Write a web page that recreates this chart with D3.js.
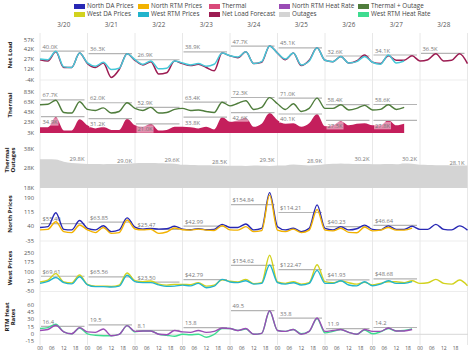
<!DOCTYPE html>
<html>
<head>
<meta charset="utf-8">
<script src="https://d3js.org/d3.v7.min.js"></script>
<style>
  body { margin: 0; background: #fff; }
  svg { display: block; font-family: "Open Sans", sans-serif; }
</style>
</head>
<body>
<svg width=474 height=354></svg>
<script>

    // ---- data (values every 4 hours, 6 per day, starting 3/20 00:00) ----
    let days = ['3/20','3/21','3/22','3/23','3/24','3/25','3/26','3/27','3/28'];
    let hourLabels = ['00','06','12','18'];

    let legendNames = ['North DA Prices','North RTM Prices','Thermal','North RTM Heat Rate','Thermal + Outage',
                       'West DA Prices','West RTM Prices','Net Load Forecast','Outages','West RTM Heat Rate'];
    let legendColors = ['#2828b4','#f2b200','#d9497a','#9a4bb5','#4f7d3c',
                        '#d2d21e','#22b4cc','#9c1c52','#d4d4d4','#3edc90'];

    // Net load (K)
    let netLoad = [28,27,40,16,15,37, 22,17,23,12,14,36, 27,20,25,13,14,25, 22,19,21,17,20,37,
                   33,31,39,21,24,48, 37,28,37,19,25,45, 26,24,32,22,24,32, 23,20,34,22,25];
    let netLoadFcst = [27,25,39,15,15,37, 21,15,22,0,12,36, 26,19,24,5,7,25, 21,18,20,15,10,37,
                       33,30,39,21,23,48, 37,27,37,18,26,45, 26,24,32,22,25,34, 23,21,33,26,26,33,
                       25,27,36,25,26,36,21];
    let netLoadPeak = [40.0,36.3,26.9,38.9,47.7,45.1,32.6,34.1,36.5];

    // Thermal (K)
    let thermalOutage = [58,59,67,43,42,64, 49,47,52,42,45,62, 51,47,53,42,43,49, 51,47,48,45,43,63,
                         56,61,66,49,53,72, 60,49,60,45,51,71, 51,51,58,48,51,57, 48,49,58,49,53];
    let thermal = [14,14,34,8,8,30, 18,12,15,9,9,31, 18,15,21,8,9,15, 15,14,12,15,10,34,
                   25,28,33,15,21,42, 28,21,22,15,22,40, 16,18,26,18,21,22, 18,18,28,18,21];
    let thermalOutagePeak = [67.7,62.0,52.9,63.4,72.3,71.0,58.4,58.6];
    let thermalPeak = [34.9,31.2,21.0,33.8,42.6,40.1,27.5,27.8];

    // Thermal outages (K)
    let outages = [32.8,32.8,32.6,31.5,30.8,30.6, 30.3,30.3,30.2,30.3,30.3,30.4, 30.7,30.8,30.8,30.7,30.6,30.5,
                   29.9,29.8,29.7,29.7,29.6,29.6, 29.4,29.4,29.3,29.5,29.4,29.3, 29.5,29.6,30.0,29.8,29.6,29.8,
                   30.2,30.4,30.6,30.4,30.3,30.3, 30.2,30.2,30.3,30.2,30.6,30.4, 29.9,29.8,29.7,29.7,29.6,29.6,29.5];
    let outageAvg = [29.8,29.0,29.6,28.5,29.3,28.9,30.2,30.2,28.1];

    // North prices ($)
    let northDA = [36,40,113,26,23,72, 31,23,45,14,23,86, 38,27,31,27,29,42, 27,24,30,24,26,52,
                   36,36,54,23,31,218, 40,23,32,14,31,154, 31,23,40,23,29,48, 26,23,44,26,26,42,
                   26,26,52,26,23,44,22];
    let northRT = [23,26,66,14,9,49, 23,9,36,5,9,75, 28,23,26,5,12,33, 24,22,27,22,20,45,
                   23,22,40,14,19,205, 22,14,27,9,22,130, 22,18,32,10,8,38, 18,22,36,22,22,32];
    let northAvg = [55.40,63.85,25.47,42.99,154.84,114.21,40.23,46.64];

    // West prices ($)
    let westDA = [25,40,90,25,18,80, 5,-8,-8,-10,0,95, 35,27,33,8,0,6, 6,4,20,-8,0,42,
                  30,25,45,12,20,235, 25,14,27,8,20,160, 27,19,33,19,8,22, 1,14,27,27,19,35,
                  14,19,45,14,8,40,-5];
    let westRT = [14,30,60,20,10,66, 2,-12,-12,-15,-8,78, 28,20,20,2,-10,-8, 0,-6,14,-20,-8,45,
                  25,20,35,8,14,158, 20,8,19,1,14,116, 14,14,35,1,-6,27, -5,8,35,14,14,27];
    let westAvg = [69.61,65.56,23.50,42.79,154.62,122.47,41.93,48.68];

    // RTM heat rates
    let northHR = [8,10,19,5,1,14, 5,4,11,-3,0,18, 6,7,7,0,-1,8, 5,4,8,4,6,13,
                   12,8,12,0,2,49, 8,6,10,0,6,34, 6,8,10,4,0,10, 6,6,13,7,7,10];
    let westHR = [12,14,21,5,1,13, 1,-2,-3,-3,0,18, 5,7,7,0,-2,-4, 0,-1,0,-6,0,12,
                  12,8,11,0,2,48, 8,6,10,1,6,33, 3,6,10,4,0,9, 1,5,12,7,8,11];
    let hrPeak = [16.4,19.5,8.1,13.8,49.5,33.8,11.9,14.2];

    let netTicks = [57,42,27,12,-4];
    let thermalTicks = [83,63,43,23,3];
    let outageTicks = [38,28,18];
    let northTicks = [190,115,40,-35];
    let westTicks = [250,175,100,25,-50];
    let hrTicks = [60,45,30,15,0,-15];

    // ---- layout ----
    let svg = d3.select('svg');
    let step = 4; // hours between samples
    let x = d3.scaleLinear().domain([0, 216]).range([40, 467.5]);

    let yNet = d3.scaleLinear().domain([-4, 57]).range([80, 40]);
    let yTh = d3.scaleLinear().domain([3, 83]).range([133, 92]);
    let yOut = d3.scaleLinear().domain([18, 38]).range([188, 149]);
    let yN = d3.scaleLinear().domain([-35, 190]).range([241, 198]);
    let yW = d3.scaleLinear().domain([-50, 250]).range([291.5, 253.3]);
    let yHR = d3.scaleLinear().domain([-15, 60]).range([341.5, 305.5]);

    let pts = vals => vals.map((v, i) => [i * step, v]);

    // legend
    let leg = svg.append('g').attr('font-size', 6.3).attr('fill', '#444');
    let legX = [74, 138, 209, 279, 358];
    legendNames.forEach((n, i) => {
        let lx = legX[i % 5], ly = i < 5 ? 4 : 12;
        leg.append('rect').attr('x', lx).attr('y', ly).attr('width', 11).attr('height', 5)
            .attr('fill', legendColors[i]);
        leg.append('text').attr('x', lx + 13).attr('y', ly + 2.6).attr('dominant-baseline', 'middle')
            .text(n);
    });

    // day labels + vertical grid
    days.forEach((d, i) => {
        svg.append('text').attr('x', x(i * 24 + 12)).attr('y', 25).attr('text-anchor', 'middle')
            .attr('dominant-baseline', 'middle').attr('font-size', 6.3).attr('fill', '#555').text(d);
    });
    d3.range(10).forEach(i => {
        svg.append('line').attr('x1', x(i * 24)).attr('x2', x(i * 24)).attr('y1', 33).attr('y2', 345)
            .attr('stroke', '#e2e2e2').attr('stroke-width', 0.8);
    });

    // bottom hour labels
    days.forEach((d, i) => {
        hourLabels.forEach((h, j) => {
            svg.append('text').attr('x', x(i * 24 + j * 6)).attr('y', 348.5).attr('text-anchor', 'middle')
                .attr('dominant-baseline', 'middle').attr('font-size', 5).attr('fill', '#555').text(h);
        });
    });

    // y axis ticks and titles
    function yTicks(scale, ticks, fmt) {
        ticks.forEach(t => {
            svg.append('text').attr('x', 34).attr('y', scale(t)).attr('text-anchor', 'end')
                .attr('dominant-baseline', 'middle').attr('font-size', 5.8).attr('fill', '#555').text(fmt(t));
        });
    }
    yTicks(yNet, netTicks, d => d + 'K');
    yTicks(yTh, thermalTicks, d => d + 'K');
    yTicks(yOut, outageTicks, d => d + 'K');
    yTicks(yN, northTicks, d => d);
    yTicks(yW, westTicks, d => d);
    yTicks(yHR, hrTicks, d => d);

    function title(lines, cy) {
        let t = svg.append('text').attr('transform', 'translate(10,' + cy + ') rotate(-90)')
            .attr('text-anchor', 'middle').attr('font-size', 6).attr('font-weight', 'bold').attr('fill', '#222');
        lines.forEach((l, i) => {
            t.append('tspan').attr('x', 0).attr('y', (i - (lines.length - 1) / 2) * 6.5 + 2).text(l);
        });
    }
    title(['Net Load'], 55);
    title(['Thermal'], 105);
    title(['Thermal', 'Outages'], 160);
    title(['North Prices'], 214);
    title(['West Prices'], 268);
    title(['RTM Heat', 'Rates'], 317);

    // baseline lines
    [[yNet, -4], [yN, -35], [yW, -50]].forEach(([s, v]) => {
        svg.append('line').attr('x1', 40).attr('x2', 468).attr('y1', s(v)).attr('y2', s(v))
            .attr('stroke', '#e8e8e8').attr('stroke-width', 0.8);
    });
    svg.append('line').attr('x1', 40).attr('x2', 468).attr('y1', yHR(0)).attr('y2', yHR(0))
        .attr('stroke', '#d8d8d8').attr('stroke-width', 1);

    // per-day annotation lines
    function dayMarks(vals, scale, fmt, below, box) {
        vals.forEach((v, i) => {
            let x0 = x(i * 24) + 1, x1 = x(i * 24 + 24) - 3, yy = scale(v);
            svg.append('line').attr('x1', x0).attr('x2', x1).attr('y1', yy).attr('y2', yy)
                .attr('stroke', '#b4b4b4').attr('stroke-width', 1.2);
            let t = svg.append('text').attr('x', x0 + 1.5).attr('y', below ? yy + 7.5 : yy - 2.5)
                .attr('font-size', 5.8).attr('fill', '#777').text(fmt(v));
            if (box) {
                let w = t.node().getComputedTextLength();
                svg.insert('rect', () => t.node()).attr('x', x0 + 0.5).attr('y', yy + 1.5)
                    .attr('width', w + 2).attr('height', 7.5).attr('fill', '#fff').attr('opacity', 0.5);
            }
        });
    }

    let curve = d3.curveMonotoneX;
    function drawLine(vals, scale, color, w) {
        svg.append('path').datum(pts(vals))
            .attr('d', d3.line().x(d => x(d[0])).y(d => scale(d[1])).curve(curve))
            .attr('fill', 'none').attr('stroke', color).attr('stroke-width', w || 1.4)
            .attr('stroke-linejoin', 'round');
    }
    function drawArea(vals, scale, base, color) {
        svg.append('path').datum(pts(vals))
            .attr('d', d3.area().x(d => x(d[0])).y0(scale(base)).y1(d => scale(d[1])).curve(curve))
            .attr('fill', color);
    }

    let fmtK = v => v.toFixed(1) + 'K';
    let fmtD = v => '$' + v.toFixed(2);

    // Net load
    dayMarks(netLoadPeak, yNet, fmtK, false);
    drawLine(netLoadFcst, yNet, '#9c1c52', 1.5);
    drawLine(netLoad, yNet, '#45c8d8', 1.5);

    // Thermal
    dayMarks(thermalOutagePeak, yTh, fmtK, false);
    drawArea(thermal, yTh, 3, '#c41f5c');
    dayMarks(thermalPeak, yTh, fmtK, true, true);
    drawLine(thermalOutage, yTh, '#4f7d3c', 1.4);

    // Outages
    drawArea(outages, yOut, 18, '#d4d4d4');
    outageAvg.forEach((v, i) => {
        svg.append('text').attr('x', x(i * 24 + 24) - 3).attr('y', yOut(v) - 3.5).attr('text-anchor', 'end')
            .attr('font-size', 5.8).attr('fill', '#777').text(fmtK(v));
    });

    // North prices
    dayMarks(northAvg, yN, fmtD, false);
    drawLine(northDA, yN, '#2828b4', 1.4);
    drawLine(northRT, yN, '#f2b200', 1.4);

    // West prices
    dayMarks(westAvg, yW, fmtD, false);
    drawLine(westDA, yW, '#d2d21e', 1.4);
    drawLine(westRT, yW, '#22b4cc', 1.4);

    // Heat rates
    dayMarks(hrPeak, yHR, v => v.toFixed(1), false);
    drawLine(westHR, yHR, '#3edc90', 1.4);
    drawLine(northHR, yHR, '#9a4bb5', 1.4);

</script>
</body>
</html>
